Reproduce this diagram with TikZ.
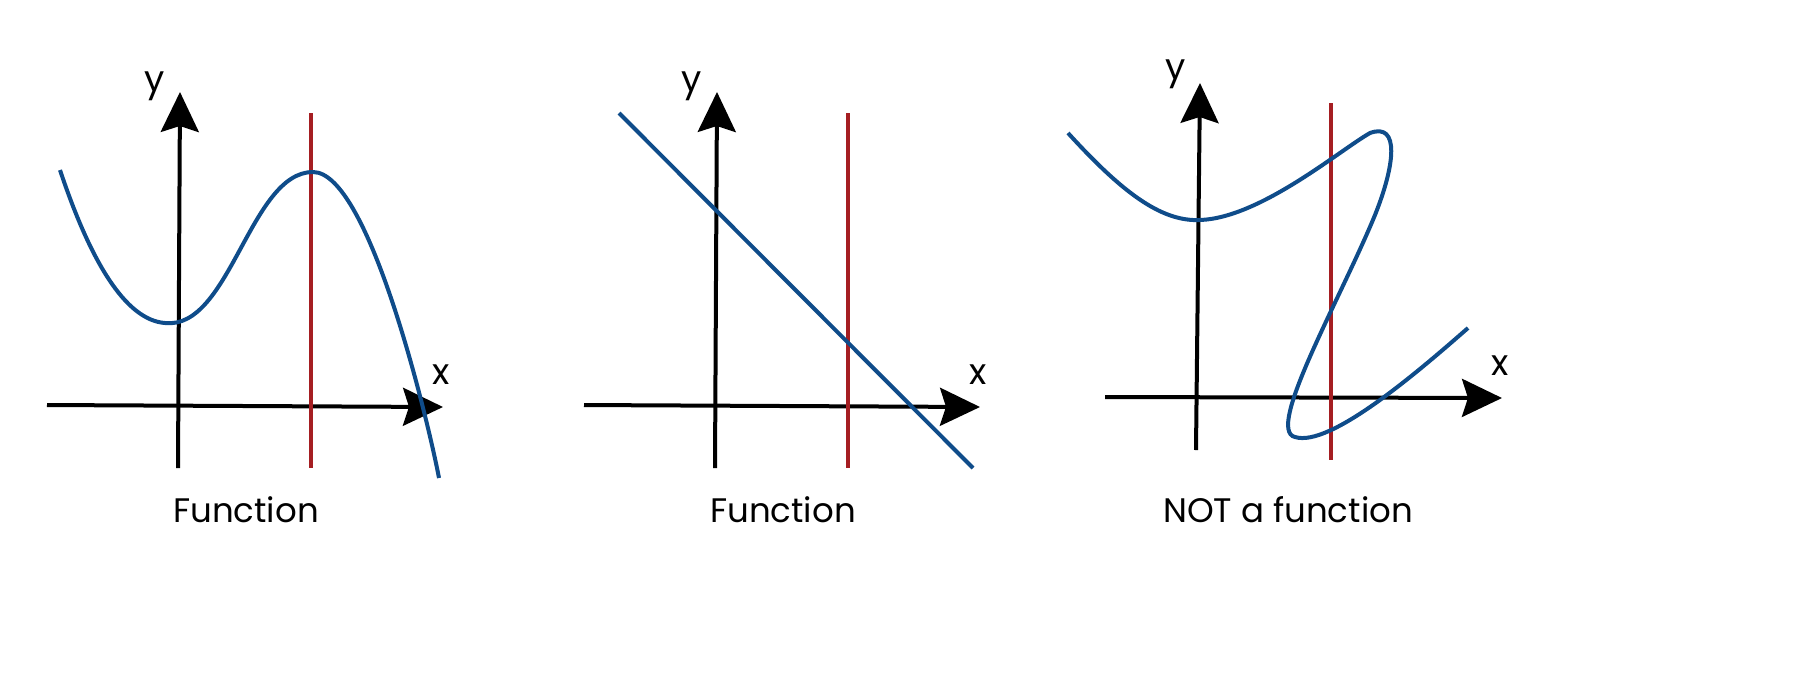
\documentclass[tikz,border=0pt]{standalone}
\usepackage{fontspec}
\setmainfont{Poppins}
\usetikzlibrary{arrows.meta}
\definecolor{cblue}{HTML}{0F4C8A}
\definecolor{cred}{HTML}{A51E22}
\begin{document}
\begin{tikzpicture}[x=0.5pt,y=-0.5pt,
 axis/.style={line width=2pt,-{Stealth[length=20pt,width=19pt,inset=3pt]}},
 curve/.style={cblue,line width=2pt},
 vline/.style={cred,line width=2pt},
 lab/.style={font=\fontsize{18}{22}\selectfont},
 caption/.style={font=\fontsize{17}{20}\selectfont}]
\useasboundingbox (0,0) rectangle (1801,698);
\clip (0,0) rectangle (1801,698);
% panel 1
\coordinate (a1) at (47,405); \coordinate (a2) at (443,407);
\coordinate (b1) at (178,468); \coordinate (b2) at (180,92);
\draw[axis] (a1) -- (a2);
\draw[axis] (b1) -- (b2);
\node[lab] (y1) at (155,86) {y};
\node[lab] (x1) at (441,375) {x};
\coordinate (r1a) at (311,113); \coordinate (r1b) at (311,468);
\draw[vline] (r1a) -- (r1b);
\draw[curve] (60,170) .. controls (90,260) and (125,320) .. (165,323) .. controls (230,330) and (250,172) .. (313,172) .. controls (370,172) and (430,430) .. (439,478);
\node[caption] (c1) at (246,510) {Function};
% panel 2
\coordinate (a3) at (584,405); \coordinate (a4) at (980,407);
\coordinate (b3) at (715,468); \coordinate (b4) at (717,92);
\draw[axis] (a3) -- (a4);
\draw[axis] (b3) -- (b4);
\node[lab] (y2) at (692,86) {y};
\node[lab] (x2) at (978,375) {x};
\coordinate (r2a) at (848,113); \coordinate (r2b) at (848,468);
\draw[vline] (r2a) -- (r2b);
\coordinate (l1) at (619,113); \coordinate (l2) at (973,468);
\draw[curve] (l1) -- (l2);
\node[caption] (c2) at (783,510) {Function};
% panel 3
\coordinate (a5) at (1105,397); \coordinate (a6) at (1502,398);
\coordinate (b5) at (1196,450); \coordinate (b6) at (1200,83);
\draw[axis] (a5) -- (a6);
\draw[axis] (b5) -- (b6);
\node[lab] (y3) at (1176,74) {y};
\node[lab] (x3) at (1500,366) {x};
\coordinate (r3a) at (1331,103); \coordinate (r3b) at (1331,460);
\draw[vline] (r3a) -- (r3b);
\draw[curve] (1068,133) .. controls (1120,190) and (1160,222) .. (1200,220) .. controls (1260,218) and (1340,150) .. (1370,133) .. controls (1400,122) and (1395,165) .. (1375,215) .. controls (1340,300) and (1265,430) .. (1295,437) .. controls (1330,448) and (1420,370) .. (1468,328);
\node[caption] (c3) at (1288,510) {NOT a function};
\end{tikzpicture}
\end{document}
